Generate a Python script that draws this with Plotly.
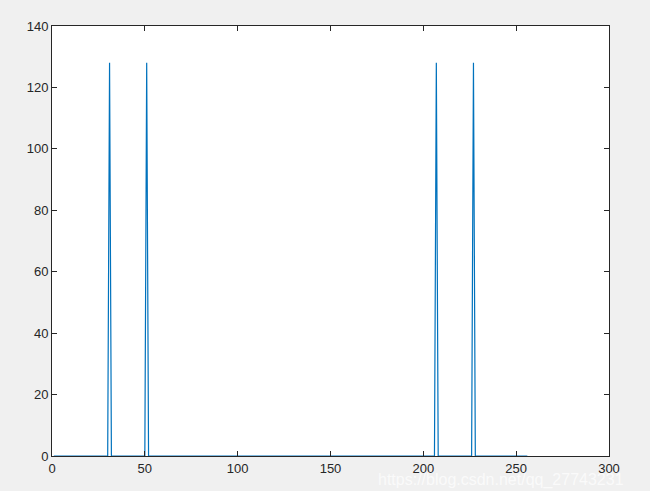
import numpy as np
import plotly.graph_objects as go

# Data: magnitude spectrum, 256 samples, zero except four spikes
n_samples = 256
spike_x = [31, 51, 207, 227]
spike_y = [128, 128, 128, 128]

x_vals = list(range(1, n_samples + 1))
y_vals = [0.0] * n_samples
for sx, sy in zip(spike_x, spike_y):
    y_vals[sx - 1] = sy

x_ticks = [0, 50, 100, 150, 200, 250, 300]
y_ticks = [0, 20, 40, 60, 80, 100, 120, 140]

fig = go.Figure()
fig.add_trace(go.Scatter(x=x_vals, y=y_vals, mode="lines",
                         line=dict(color="#0072BD", width=1.2),
                         showlegend=False, hoverinfo="skip"))

axis_common = dict(showgrid=False, zeroline=False, showline=True, linecolor="#262626",
                   linewidth=1, mirror="ticks", ticks="inside", ticklen=5,
                   tickcolor="#262626",
                   tickfont=dict(family="Liberation Sans, Arial", size=13, color="#262626"))

fig.update_layout(
    width=650, height=491,
    paper_bgcolor="#f0f0f0", plot_bgcolor="white",
    margin=dict(l=52, r=41, t=26, b=35),
    xaxis=dict(range=[0, 300], tickvals=x_ticks, **axis_common),
    yaxis=dict(range=[0, 140], tickvals=y_ticks, **axis_common),
    annotations=[dict(text="https://blog.csdn.net/qq_27743231", xref="paper", yref="paper",
                      x=1.03, y=-0.03, xanchor="right", yanchor="top", showarrow=False,
                      font=dict(family="Liberation Sans, Arial", size=16,
                                color="rgba(255,255,255,0.7)"))],
)

fig.write_html("out.html", config={"displayModeBar": False},
               post_script="document.body.style.margin='0';document.body.style.overflow='hidden';")
